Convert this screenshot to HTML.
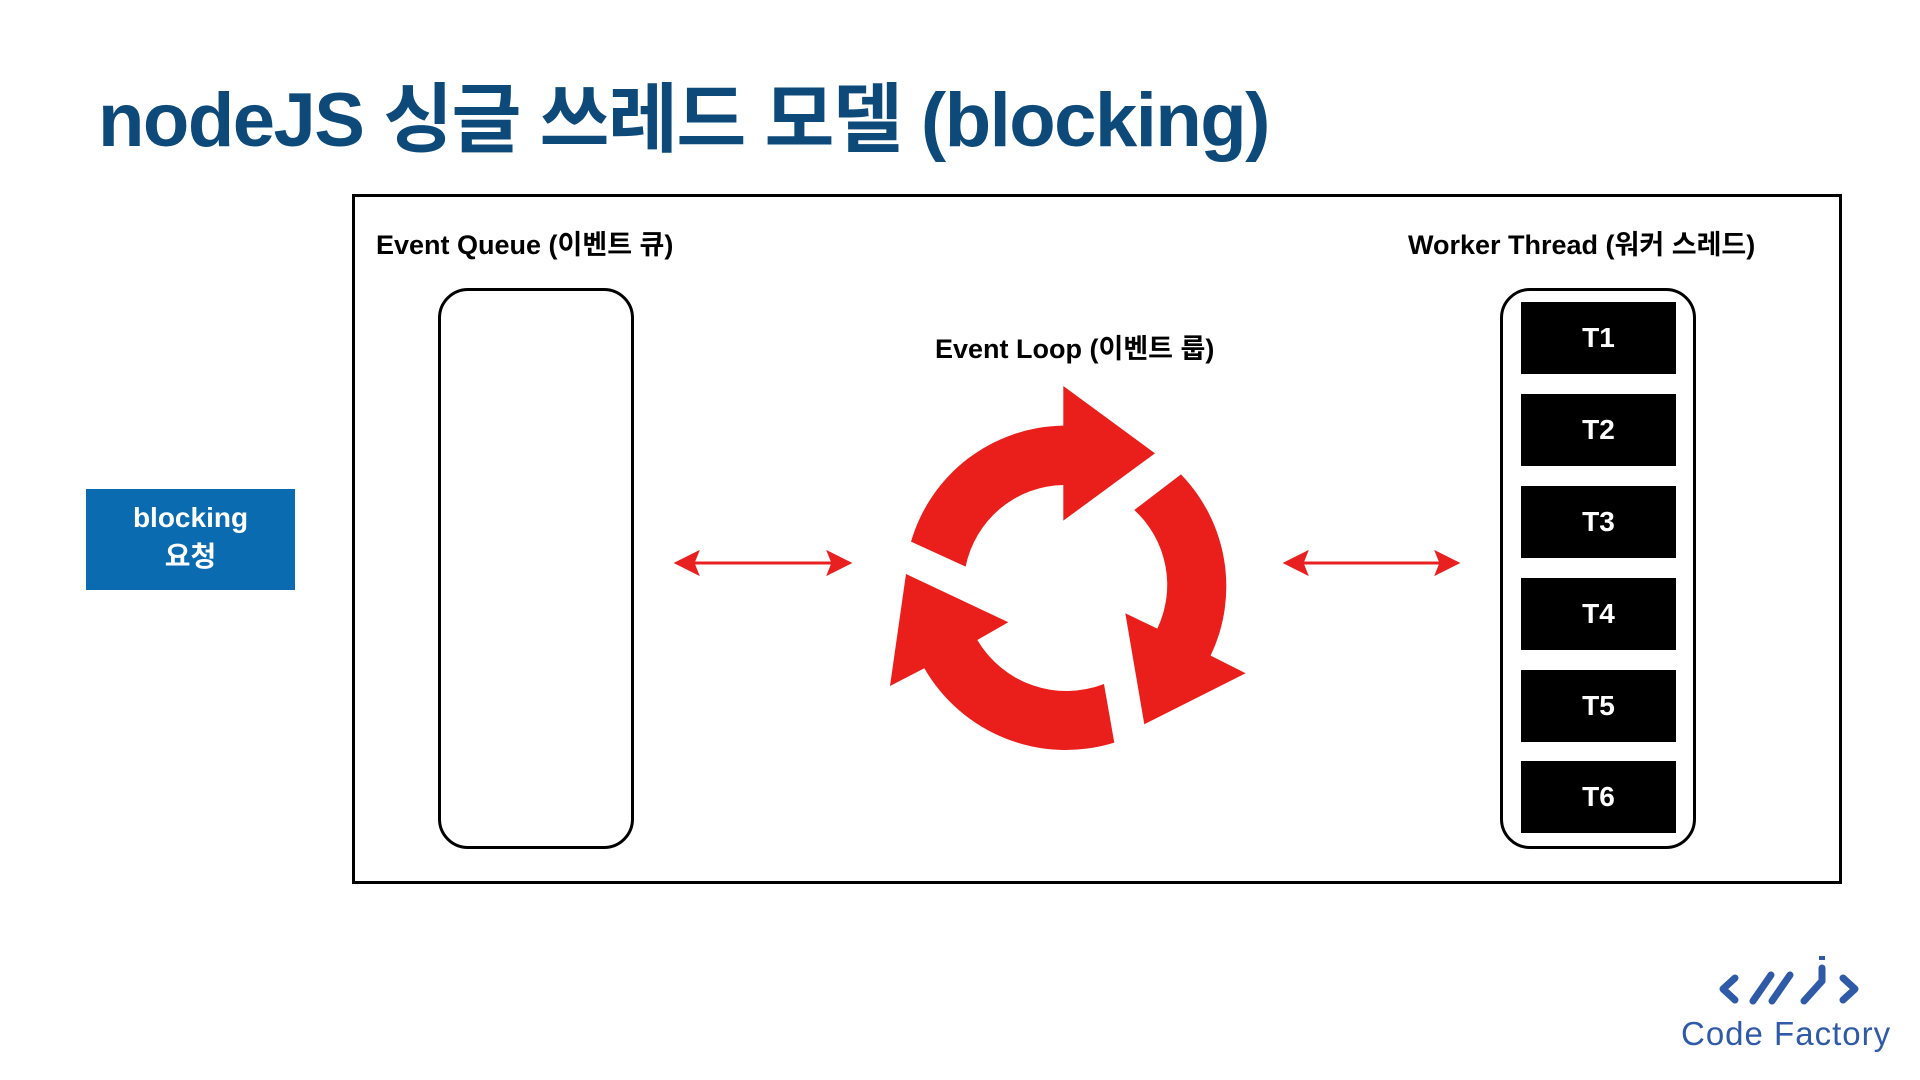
<!DOCTYPE html>
<html><head><meta charset="utf-8"><style>
body{margin:0;width:1920px;height:1080px;background:#fff;position:relative;overflow:hidden;font-family:"Liberation Sans","Noto Sans CJK KR",sans-serif}
.a{position:absolute}
.title{left:98px;top:58px;font-size:76px;font-weight:bold;color:#0d4a7a;letter-spacing:-1.5px;white-space:nowrap}
.lbl{font-size:27px;font-weight:bold;color:#000;white-space:nowrap}
.t{position:absolute;left:1521px;width:155px;height:72px;background:#000;color:#fff;font-weight:bold;font-size:28px;text-align:center;line-height:72px}
</style></head><body>
<div class="a title">nodeJS 싱글 쓰레드 모델 (blocking)</div>
<div class="a" style="left:352px;top:194px;width:1484px;height:684px;border:3px solid #000"></div>
<div class="a lbl" style="left:376px;top:223px">Event Queue (이벤트 큐)</div>
<div class="a lbl" style="left:1408px;top:223px">Worker Thread (워커 스레드)</div>
<div class="a lbl" style="left:935px;top:327px">Event Loop (이벤트 룹)</div>
<div class="a" style="left:438px;top:288px;width:190px;height:555px;border:3px solid #000;border-radius:30px"></div>
<div class="a" style="left:1500px;top:288px;width:190px;height:555px;border:3px solid #000;border-radius:30px"></div>
<div class="t" style="top:302px">T1</div>
<div class="t" style="top:394px">T2</div>
<div class="t" style="top:486px">T3</div>
<div class="t" style="top:578px">T4</div>
<div class="t" style="top:670px">T5</div>
<div class="t" style="top:761px">T6</div>
<div class="a" style="left:86px;top:489px;width:209px;height:101px;background:#0a6bb0;color:#fff;font-weight:bold;font-size:28px;text-align:center;line-height:39px;padding-top:9px;box-sizing:border-box">blocking<br>요청</div>
<svg class="a" style="left:0;top:0" width="1920" height="1080">
<g stroke="#e82020" stroke-width="3" fill="#e82020">
<line x1="685" y1="563" x2="841" y2="563"/>
<polygon points="677,563 697,553 693,563 697,573"/>
<polygon points="849,563 829,553 833,563 829,573"/>
<line x1="1294" y1="563" x2="1449" y2="563"/>
<polygon points="1286,563 1306,553 1302,563 1306,573"/>
<polygon points="1457,563 1437,553 1441,563 1437,573"/>
</g>
<g transform="translate(850,360) scale(0.3333)" fill="#ea1f1b">
<path d="M183,545 A483,483 0 0 1 640,197 L640,78 L915,280 L640,482 L640,375 A305,305 0 0 0 347,620 Z"/>
<path d="M993,343 A483,483 0 0 1 1082,887 L1187,940 L883,1093 L826,760 L922,806 A305,305 0 0 0 853,450 Z"/>
<path d="M793,1148 A490,490 0 0 1 223,925 L120,978 L168,642 L475,787 L382,840 A310,310 0 0 0 762,972 Z"/>
</g>
<g fill="none" stroke="#2f5aa8" stroke-width="7" stroke-linecap="round" stroke-linejoin="round">
<polyline points="1735,978 1723,989 1735,1000"/>
<line x1="1753" y1="1001" x2="1771" y2="975"/>
<line x1="1772" y1="1001" x2="1790" y2="975"/>
<line x1="1804" y1="1001" x2="1822" y2="981"/>
<line x1="1822" y1="981" x2="1822" y2="968"/>
<polyline points="1843,978 1855,989 1843,1000"/>
</g>
<line x1="1819" y1="958" x2="1825" y2="958" stroke="#2f5aa8" stroke-width="4"/>
<text x="1681" y="1045" font-family="Liberation Sans, sans-serif" font-size="33" letter-spacing="1" fill="#2f5aa8">Code Factory</text>
</svg>
</body></html>
